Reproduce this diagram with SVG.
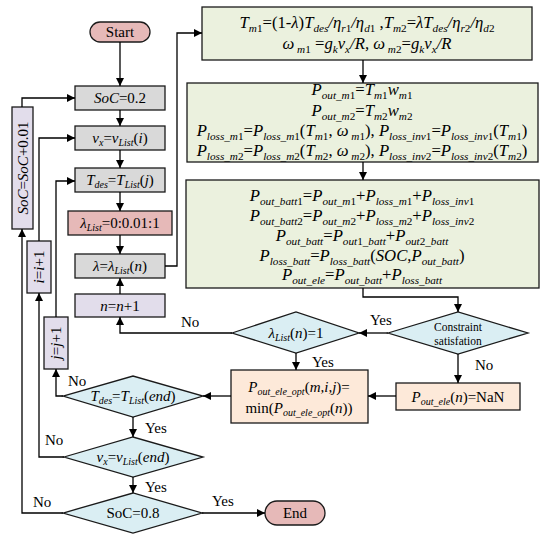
<svg xmlns="http://www.w3.org/2000/svg" width="550" height="539" viewBox="0 0 550 539">
<defs>
<marker id="ah" viewBox="0 0 10 10" refX="10" refY="5" markerWidth="8" markerHeight="8" markerUnits="userSpaceOnUse" orient="auto"><path d="M0,0 L10,5 L0,10 z" fill="#000"/></marker>
<style>
.t{font-family:"Liberation Serif","Times New Roman",serif;font-size:15px;fill:#000;text-anchor:middle}
.i{font-style:italic}
.s{font-size:10px;font-style:italic;baseline-shift:-3px}
.sn{font-size:10px;baseline-shift:-3px}
.g{font-size:16.7px}
.g .s,.g .sn{font-size:11.2px;baseline-shift:-3.5px}
.sm{font-size:11.5px;font-family:"Liberation Serif",serif;fill:#000;text-anchor:middle}
.lb{font-family:"Liberation Serif",serif;font-size:15px;fill:#000}
.b{stroke:#1a1a1a;stroke-width:1.3}
.gray{fill:#d9d9d9}
.pink{fill:#e6b9b8}
.purp{fill:#e2ddeb}
.green{fill:#ebf1de}
.blue{fill:#daeef3}
.peach{fill:#fde9d9}
.c{fill:none;stroke:#000;stroke-width:1.3}
</style>
</defs>
<g id="start"><rect class="b pink" x="90" y="22" width="60" height="20" rx="10"/><text class="t" x="120" y="37">Start</text></g>
<g id="soc02"><rect class="b gray" x="75" y="86" width="90" height="24"/><text class="t" x="120" y="103"><tspan class="i">SoC</tspan>=0.2</text></g>
<g id="vx"><rect class="b gray" x="75" y="126" width="90" height="24"/><text class="t" x="120" y="143"><tspan class="i">v</tspan><tspan class="s">x</tspan><tspan>=</tspan><tspan class="i">v</tspan><tspan class="s">List</tspan><tspan>(</tspan><tspan class="i">i</tspan>)</text></g>
<g id="tdes"><rect class="b gray" x="75" y="168" width="90" height="24"/><text class="t" x="120" y="185"><tspan class="i">T</tspan><tspan class="s">des</tspan><tspan>=</tspan><tspan class="i">T</tspan><tspan class="s">List</tspan><tspan>(</tspan><tspan class="i">j</tspan>)</text></g>
<g id="lamlist"><rect class="b pink" x="68" y="211" width="104" height="24"/><text class="t" x="120" y="228"><tspan class="i">λ</tspan><tspan class="s">List</tspan><tspan>=0:0.01:1</tspan></text></g>
<g id="lam"><rect class="b gray" x="75" y="254" width="90" height="24"/><text class="t" x="120" y="271"><tspan class="i">λ</tspan>=<tspan class="i">λ</tspan><tspan class="s">List</tspan><tspan>(</tspan><tspan class="i">n</tspan>)</text></g>
<g id="nn"><rect class="b purp" x="75" y="294" width="90" height="23"/><text class="t" x="120" y="311"><tspan class="i">n</tspan>=<tspan class="i">n</tspan>+1</text></g>
<g id="socinc"><rect class="b purp" x="12" y="107" width="21" height="122"/><text class="t" transform="translate(27.5,168) rotate(-90)"><tspan class="i">SoC</tspan>=<tspan class="i">SoC</tspan>+0.01</text></g>
<g id="iinc"><rect class="b purp" x="27" y="241" width="24" height="52"/><text class="t" transform="translate(44,267) rotate(-90)"><tspan class="i">i</tspan>=<tspan class="i">i</tspan>+1</text></g>
<g id="jinc"><rect class="b purp" x="44" y="317" width="24" height="52"/><text class="t" transform="translate(61,343) rotate(-90)"><tspan class="i">j</tspan>=<tspan class="i">j</tspan>+1</text></g>
<g id="box1"><rect class="b green" x="202" y="7" width="330" height="53"/>
<text class="t g" x="367" y="28"><tspan class="i">T</tspan><tspan class="s">m</tspan><tspan class="sn">1</tspan><tspan>=(1-</tspan><tspan class="i">λ</tspan><tspan>)</tspan><tspan class="i">T</tspan><tspan class="s">des</tspan><tspan class="i">/η</tspan><tspan class="s">r</tspan><tspan class="sn">1</tspan><tspan class="i">/η</tspan><tspan class="s">d</tspan><tspan class="sn">1</tspan><tspan> ,</tspan><tspan class="i">T</tspan><tspan class="s">m</tspan><tspan class="sn">2</tspan><tspan>=</tspan><tspan class="i">λT</tspan><tspan class="s">des</tspan><tspan class="i">/η</tspan><tspan class="s">r</tspan><tspan class="sn">2</tspan><tspan class="i">/η</tspan><tspan class="s">d</tspan><tspan class="sn">2</tspan></text>
<text class="t g" x="367" y="49"><tspan class="i">ω</tspan><tspan class="s"> m</tspan><tspan class="sn">1</tspan><tspan> =</tspan><tspan class="i">g</tspan><tspan class="s">k</tspan><tspan class="i">v</tspan><tspan class="s">x</tspan><tspan class="i">/R,  ω</tspan><tspan class="s"> m</tspan><tspan class="sn">2</tspan><tspan>=</tspan><tspan class="i">g</tspan><tspan class="s">k</tspan><tspan class="i">v</tspan><tspan class="s">x</tspan><tspan class="i">/R</tspan></text></g>
<g id="box2"><rect class="b green" x="187" y="83" width="351" height="79"/>
<text class="t g" x="362" y="95"><tspan class="i">P</tspan><tspan class="s">out_m</tspan><tspan class="sn">1</tspan><tspan>=</tspan><tspan class="i">T</tspan><tspan class="s">m</tspan><tspan class="sn">1</tspan><tspan class="i">w</tspan><tspan class="s">m</tspan><tspan class="sn">1</tspan></text>
<text class="t g" x="362" y="116"><tspan class="i">P</tspan><tspan class="s">out_m</tspan><tspan class="sn">2</tspan><tspan>=</tspan><tspan class="i">T</tspan><tspan class="s">m</tspan><tspan class="sn">2</tspan><tspan class="i">w</tspan><tspan class="s">m</tspan><tspan class="sn">2</tspan></text>
<text class="t g" x="362" y="136"><tspan class="i">P</tspan><tspan class="s">loss_m</tspan><tspan class="sn">1</tspan><tspan>=</tspan><tspan class="i">P</tspan><tspan class="s">loss_m</tspan><tspan class="sn">1</tspan><tspan>(</tspan><tspan class="i">T</tspan><tspan class="s">m</tspan><tspan class="sn">1</tspan><tspan>, </tspan><tspan class="i">ω</tspan><tspan class="s"> m</tspan><tspan class="sn">1</tspan><tspan>), </tspan><tspan class="i">P</tspan><tspan class="s">loss_inv</tspan><tspan class="sn">1</tspan><tspan>=</tspan><tspan class="i">P</tspan><tspan class="s">loss_inv</tspan><tspan class="sn">1</tspan><tspan>(</tspan><tspan class="i">T</tspan><tspan class="s">m</tspan><tspan class="sn">1</tspan><tspan>)</tspan></text>
<text class="t g" x="362" y="156"><tspan class="i">P</tspan><tspan class="s">loss_m</tspan><tspan class="sn">2</tspan><tspan>=</tspan><tspan class="i">P</tspan><tspan class="s">loss_m</tspan><tspan class="sn">2</tspan><tspan>(</tspan><tspan class="i">T</tspan><tspan class="s">m</tspan><tspan class="sn">2</tspan><tspan>, </tspan><tspan class="i">ω</tspan><tspan class="s"> m</tspan><tspan class="sn">2</tspan><tspan>), </tspan><tspan class="i">P</tspan><tspan class="s">loss_inv</tspan><tspan class="sn">2</tspan><tspan>=</tspan><tspan class="i">P</tspan><tspan class="s">loss_inv</tspan><tspan class="sn">2</tspan><tspan>(</tspan><tspan class="i">T</tspan><tspan class="s">m</tspan><tspan class="sn">2</tspan><tspan>)</tspan></text></g>
<g id="box3"><rect class="b green" x="186" y="180" width="353" height="108"/>
<text class="t g" x="362" y="201"><tspan class="i">P</tspan><tspan class="s">out_batt</tspan><tspan class="sn">1</tspan><tspan>=</tspan><tspan class="i">P</tspan><tspan class="s">out_m</tspan><tspan class="sn">1</tspan><tspan>+</tspan><tspan class="i">P</tspan><tspan class="s">loss_m</tspan><tspan class="sn">1</tspan><tspan>+</tspan><tspan class="i">P</tspan><tspan class="s">loss_inv</tspan><tspan class="sn">1</tspan></text>
<text class="t g" x="362" y="221"><tspan class="i">P</tspan><tspan class="s">out_batt</tspan><tspan class="sn">2</tspan><tspan>=</tspan><tspan class="i">P</tspan><tspan class="s">out_m</tspan><tspan class="sn">2</tspan><tspan>+</tspan><tspan class="i">P</tspan><tspan class="s">loss_m</tspan><tspan class="sn">2</tspan><tspan>+</tspan><tspan class="i">P</tspan><tspan class="s">loss_inv</tspan><tspan class="sn">2</tspan></text>
<text class="t g" x="362" y="241"><tspan class="i">P</tspan><tspan class="s">out_batt</tspan><tspan>=</tspan><tspan class="i">P</tspan><tspan class="s">out</tspan><tspan class="sn">1</tspan><tspan class="s">_batt</tspan><tspan>+</tspan><tspan class="i">P</tspan><tspan class="s">out</tspan><tspan class="sn">2</tspan><tspan class="s">_batt</tspan></text>
<text class="t g" x="362" y="261"><tspan class="i">P</tspan><tspan class="s">loss_batt</tspan><tspan>=</tspan><tspan class="i">P</tspan><tspan class="s">loss_batt</tspan><tspan>(</tspan><tspan class="i">SOC</tspan><tspan>,</tspan><tspan class="i">P</tspan><tspan class="s">out_batt</tspan><tspan>)</tspan></text>
<text class="t g" x="362" y="280"><tspan class="i">P</tspan><tspan class="s">out_ele</tspan><tspan>=</tspan><tspan class="i">P</tspan><tspan class="s">out_batt</tspan><tspan>+</tspan><tspan class="i">P</tspan><tspan class="s">loss_batt</tspan></text></g>
<g id="constraint"><polygon class="b blue" points="388,333 458,312 528,333 458,354"/><text class="sm" x="458" y="331">Constraint</text><text class="sm" x="458" y="345">satisfation</text></g>
<g id="lamcheck"><polygon class="b blue" points="232,333 296,312 359,333 296,353"/><text class="t" x="296" y="338"><tspan class="i">λ</tspan><tspan class="s">List</tspan><tspan>(</tspan><tspan class="i">n</tspan><tspan>)=1</tspan></text></g>
<g id="nan"><rect class="b peach" x="396" y="383" width="124" height="27"/><text class="t" x="458" y="402"><tspan class="i">P</tspan><tspan class="s">out_ele</tspan><tspan>(</tspan><tspan class="i">n</tspan><tspan>)=NaN</tspan></text></g>
<g id="opt"><rect class="b peach" x="231" y="370" width="137" height="53"/><text class="t" x="299" y="392"><tspan class="i">P</tspan><tspan class="s">out_ele_opt</tspan><tspan>(</tspan><tspan class="i">m,i,j</tspan><tspan>)=</tspan></text><text class="t" x="299" y="413"><tspan>min(</tspan><tspan class="i">P</tspan><tspan class="s">out_ele_opt</tspan><tspan>(</tspan><tspan class="i">n</tspan><tspan>))</tspan></text></g>
<g id="tcheck"><polygon class="b blue" points="63,396 133,376 203,396 133,417"/><text class="t" x="133" y="401"><tspan class="i">T</tspan><tspan class="s">des</tspan><tspan>=</tspan><tspan class="i">T</tspan><tspan class="s">List</tspan><tspan>(</tspan><tspan class="i">end</tspan><tspan>)</tspan></text></g>
<g id="vcheck"><polygon class="b blue" points="64,457 133,437 203,457 133,477"/><text class="t" x="133" y="462"><tspan class="i">v</tspan><tspan class="s">x</tspan><tspan>=</tspan><tspan class="i">v</tspan><tspan class="s">List</tspan><tspan>(</tspan><tspan class="i">end</tspan><tspan>)</tspan></text></g>
<g id="soccheck"><polygon class="b blue" points="63,513 133,493 202,513 133,533"/><text class="t" x="133" y="518">SoC=0.8</text></g>
<g id="end"><rect class="b pink" x="265" y="501" width="60" height="24" rx="12"/><text class="t" x="295" y="518">End</text></g>
<g id="connectors">
<path class="c" d="M120,42 V86" marker-end="url(#ah)"/>
<path class="c" d="M120,110 V126" marker-end="url(#ah)"/>
<path class="c" d="M120,150 V168" marker-end="url(#ah)"/>
<path class="c" d="M120,192 V211" marker-end="url(#ah)"/>
<path class="c" d="M120,235 V254" marker-end="url(#ah)"/>
<path class="c" d="M120,294 V278" marker-end="url(#ah)"/>
<path class="c" d="M165,266 H177 V33 H202" marker-end="url(#ah)"/>
<path class="c" d="M363,60 V83" marker-end="url(#ah)"/>
<path class="c" d="M363,162 V180" marker-end="url(#ah)"/>
<path class="c" d="M363,288 V297 H458 V312" marker-end="url(#ah)"/>
<path class="c" d="M388,333 H359" marker-end="url(#ah)"/>
<path class="c" d="M232,333 H120 V317" marker-end="url(#ah)"/>
<path class="c" d="M296,353 V370" marker-end="url(#ah)"/>
<path class="c" d="M458,354 V383" marker-end="url(#ah)"/>
<path class="c" d="M396,396 H368" marker-end="url(#ah)"/>
<path class="c" d="M231,396 H203" marker-end="url(#ah)"/>
<path class="c" d="M133,417 V437" marker-end="url(#ah)"/>
<path class="c" d="M133,477 V493" marker-end="url(#ah)"/>
<path class="c" d="M202,513 H265" marker-end="url(#ah)"/>
<path class="c" d="M63,396 H56 V369" marker-end="url(#ah)"/>
<path class="c" d="M64,457 H39 V293" marker-end="url(#ah)"/>
<path class="c" d="M63,513 H22 V229" marker-end="url(#ah)"/>
<path class="c" d="M56,317 V181 H75" marker-end="url(#ah)"/>
<path class="c" d="M39,241 V138 H75" marker-end="url(#ah)"/>
<path class="c" d="M22,107 V98 H75" marker-end="url(#ah)"/>
<text class="lb" x="370" y="325">Yes</text>
<text class="lb" x="181" y="327">No</text>
<text class="lb" x="312" y="367">Yes</text>
<text class="lb" x="475" y="370">No</text>
<text class="lb" x="68" y="386">No</text>
<text class="lb" x="145" y="433">Yes</text>
<text class="lb" x="45" y="445">No</text>
<text class="lb" x="145" y="492">Yes</text>
<text class="lb" x="33" y="507">No</text>
<text class="lb" x="212" y="506">Yes</text>
</g>
</svg>
